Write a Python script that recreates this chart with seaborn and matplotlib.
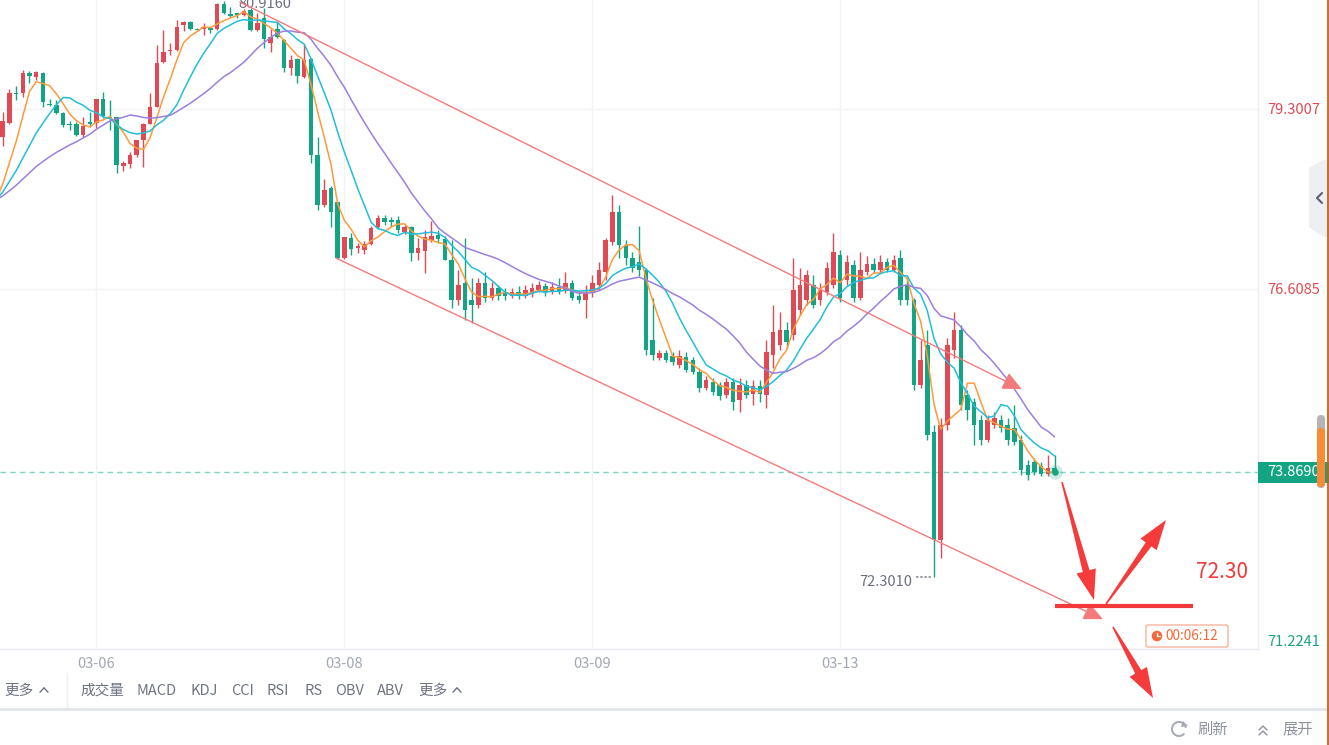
import numpy as np
import pandas as pd
import matplotlib
matplotlib.use("Agg")
import matplotlib.pyplot as plt
import matplotlib.transforms as mtransforms
from matplotlib.patches import Rectangle, FancyBboxPatch, Polygon, Circle, Arc
import seaborn as sns

# ---------------- data ----------------
opens = [
    78.88, 79.09, 79.54, 79.54, 79.84, 79.78, 79.84, 79.37, 79.36, 79.24,
    79.08, 79.08, 78.91, 79.11, 79.09, 79.45, 79.18, 79.18, 78.45, 78.48,
    78.61, 78.84, 79.08, 79.33, 80.00, 80.17, 80.18, 80.56, 80.60, 80.50,
    80.50, 80.51, 80.50, 80.87, 80.72, 80.74, 80.71, 80.78, 80.48, 80.66,
    80.29, 80.50, 80.33, 79.91, 80.05, 79.78, 80.05, 78.61, 77.86, 78.12,
    77.91, 77.07, 77.37, 77.22, 77.19, 77.28, 77.53, 77.67, 77.64, 77.64,
    77.46, 77.53, 77.15, 77.18, 77.34, 77.42, 77.36,
    77.04, 76.44, 76.70, 76.44, 76.37, 76.70, 76.47, 76.62, 76.56, 76.50, 76.56, 76.50,
    76.53, 76.59, 76.65, 76.56, 76.64, 76.58, 76.70, 76.50, 76.44, 76.56, 76.67, 76.86,
    77.31, 77.76, 77.27, 77.07, 77.01, 76.89, 75.84, 75.57, 75.65, 75.60, 75.47, 75.59,
    75.54, 75.36, 75.13, 75.22, 75.17, 75.02, 75.22, 74.95, 75.17, 75.04, 75.16, 75.02,
    75.62, 75.77, 75.99, 75.92, 76.29, 76.44, 76.67, 76.44, 76.56, 76.67, 77.12, 76.74,
    76.97, 76.47, 76.86, 76.98, 76.89, 77.01, 76.89, 77.07, 76.67, 76.44, 75.17, 75.77,
    74.47, 72.85, 74.57, 75.69, 75.99, 75.02, 74.92, 74.65, 74.35, 74.57,
    74.65, 74.57, 74.53, 74.35, 73.97, 74.02, 73.96, 73.84, 73.93,
]
highs = [
    79.26, 79.60, 79.64, 79.88, 79.87, 79.87, 79.85, 79.45, 79.43, 79.26,
    79.12, 79.11, 79.18, 79.26, 79.45, 79.55, 79.43, 79.18, 78.52, 78.66,
    78.84, 79.09, 79.54, 80.26, 80.48, 80.29, 80.63, 80.62, 80.62, 80.51,
    80.59, 80.53, 80.89, 80.916, 80.83, 80.74, 80.80, 80.81, 80.74, 80.81,
    80.50, 80.60, 80.35, 80.11, 80.06, 80.27, 80.06, 78.88, 78.25, 78.15,
    77.91, 77.39, 77.45, 77.30, 77.33, 77.55, 77.72, 77.72, 77.69, 77.70,
    77.56, 77.55, 77.37, 77.49, 77.62, 77.49, 77.40,
    77.34, 76.89, 77.37, 76.77, 76.77, 76.86, 76.71, 76.67, 76.62, 76.62, 76.65, 76.67,
    76.70, 76.73, 76.70, 76.71, 76.77, 76.86, 76.74, 76.59, 76.67, 76.82, 77.01, 77.37,
    78.01, 77.86, 77.34, 77.16, 77.55, 76.92, 76.47, 75.69, 75.69, 75.66, 75.69, 75.66,
    75.59, 75.42, 75.31, 75.28, 75.22, 75.28, 75.28, 75.28, 75.25, 75.25, 75.25, 75.84,
    76.37, 76.26, 76.11, 77.07, 76.92, 76.89, 76.82, 76.70, 77.01, 77.44, 77.19, 77.12,
    77.04, 77.16, 77.10, 77.07, 77.12, 77.07, 77.12, 77.19, 76.77, 76.47, 75.84, 75.99,
    74.57, 74.68, 75.87, 76.26, 76.07, 75.10, 74.98, 74.72, 74.72, 74.77,
    74.72, 74.68, 74.87, 74.42, 74.05, 74.08, 74.02, 74.13, 74.13,
]
lows = [
    78.75, 79.08, 79.43, 79.48, 79.69, 79.73, 79.33, 79.35, 79.22, 79.03,
    78.99, 78.90, 78.88, 79.03, 79.02, 79.17, 78.99, 78.34, 78.37, 78.42,
    78.58, 78.43, 79.08, 79.33, 79.99, 80.11, 80.17, 80.47, 80.48, 80.48,
    80.41, 80.44, 80.48, 80.72, 80.68, 80.66, 80.69, 80.47, 80.47, 80.21,
    80.15, 80.36, 79.85, 79.81, 79.69, 79.76, 78.49, 77.79, 77.83, 77.53,
    77.06, 77.06, 77.12, 77.15, 77.13, 77.27, 77.52, 77.57, 77.54, 77.45,
    77.43, 77.03, 77.04, 76.85, 77.31, 77.30, 77.04,
    76.32, 76.37, 76.14, 76.10, 76.32, 76.41, 76.44, 76.44, 76.44, 76.47, 76.46, 76.47,
    76.49, 76.56, 76.50, 76.53, 76.53, 76.55, 76.44, 76.40, 76.17, 76.49, 76.59, 76.74,
    77.27, 77.07, 76.97, 76.86, 76.80, 75.62, 75.54, 75.54, 75.51, 75.47, 75.42, 75.36,
    75.33, 75.07, 75.10, 75.02, 74.95, 74.98, 74.80, 74.77, 74.98, 74.87, 74.92, 74.83,
    75.42, 75.69, 75.72, 75.84, 76.22, 76.37, 76.32, 76.37, 76.52, 76.62, 76.41, 76.67,
    76.41, 76.44, 76.82, 76.85, 76.86, 76.86, 76.86, 76.37, 76.37, 75.10, 75.13, 74.35,
    72.301, 72.58, 74.50, 75.57, 74.80, 74.65, 74.27, 74.27, 74.32, 74.53,
    74.47, 74.27, 74.27, 73.82, 73.75, 73.82, 73.81, 73.81, 73.84,
]
closes = [
    79.12, 79.54, 79.52, 79.84, 79.79, 79.85, 79.41, 79.36, 79.24, 79.06,
    79.06, 78.91, 79.05, 79.08, 79.45, 79.20, 79.17, 78.46, 78.49, 78.61,
    78.84, 79.08, 79.33, 79.99, 80.15, 80.18, 80.53, 80.60, 80.50, 80.48,
    80.53, 80.48, 80.87, 80.74, 80.69, 80.71, 80.77, 80.48, 80.59, 80.35,
    80.38, 80.38, 79.91, 80.03, 79.79, 80.03, 78.61, 77.86, 78.09, 77.76,
    77.07, 77.39, 77.21, 77.25, 77.28, 77.52, 77.67, 77.61, 77.61, 77.49,
    77.53, 77.15, 77.22, 77.39, 77.40, 77.36, 77.04,
    76.44, 76.67, 76.29, 76.37, 76.70, 76.47, 76.62, 76.50, 76.50, 76.56, 76.50, 76.59,
    76.62, 76.67, 76.56, 76.64, 76.58, 76.70, 76.47, 76.44, 76.56, 76.70, 76.89, 77.34,
    77.76, 77.27, 77.07, 76.92, 76.89, 75.69, 75.62, 75.65, 75.54, 75.51, 75.60, 75.39,
    75.36, 75.13, 75.25, 75.07, 75.01, 75.22, 74.92, 75.17, 75.02, 75.16, 75.04, 75.66,
    75.96, 75.99, 75.81, 76.59, 76.67, 76.82, 76.37, 76.59, 76.92, 77.16, 76.47, 77.01,
    76.47, 76.89, 76.98, 76.89, 77.01, 76.89, 77.04, 76.44, 76.44, 75.17, 75.55, 74.42,
    72.85, 74.57, 75.77, 75.99, 74.87, 74.80, 74.57, 74.35, 74.65, 74.68,
    74.53, 74.35, 74.32, 73.90, 73.82, 73.87, 73.84, 73.93, 73.869,
]
prior_close = 77.94          # level before the visible window, where the MA lines start
ma_windows = [5, 10, 20]
date_ticks = [14, 51, 88, 125]
date_labels = ["03-06", "03-08", "03-09", "03-13"]
ytick_values = [79.3007, 76.6085, 71.2241]
y_top = 80.931
last_price = 73.8690
high_value = 80.9160
low_value = 72.3010
upper_channel_x = [35.4, 152.1]
upper_channel_y = [80.90, 75.11]
lower_channel_x = [49.75, 164.2]
lower_channel_y = [77.07, 71.67]
target_text = "72.30"
countdown_text = "00:06:12"
toolbar_items = ["成交量", "MACD", "KDJ", "CCI", "RSI", "RS", "OBV", "ABV"]
toolbar_x = [80, 137, 191, 231, 267, 304, 335, 377]

# ---------------- style ----------------
sns.set_theme(style="white")
plt.rcParams["font.family"] = ["Noto Sans CJK SC", "DejaVu Sans"]

RED = "#e04a54"
GREEN = "#13a483"
MA_COLORS = ["#ff9a3c", "#22bedc", "#9c7fe0"]
GRID = "#f2f3f5"

W, H = 1329, 745
fig = plt.figure(figsize=(W / 100, H / 100), dpi=100)
fig.patch.set_facecolor("white")
ax = fig.add_axes([0, (H - 649) / H, 1258 / W, 649 / H])

df = pd.DataFrame(dict(open=opens, high=highs, low=lows, close=closes))
df["idx"] = np.arange(len(df))
up = df["close"] >= df["open"]
cols = np.where(up, RED, GREEN)

# wicks and bodies
ax.vlines(df["idx"], df["low"], df["high"], colors=cols, linewidth=1.0, zorder=2)
body_bottom = np.minimum(df["open"], df["close"])
body_h = np.maximum((df["close"] - df["open"]).abs(), 0.014)
ax.bar(df["idx"], body_h, bottom=body_bottom, width=0.68, color=cols, linewidth=0, zorder=2)

# moving averages
full = pd.concat([pd.Series([prior_close] * max(ma_windows)), df["close"]], ignore_index=True)
start = max(ma_windows) - 1
xs = np.arange(-1, len(df))
for w, c in zip(ma_windows, MA_COLORS):
    ma = full.rolling(w).mean().iloc[start:].to_numpy()
    sns.lineplot(x=xs, y=ma, ax=ax, color=c, linewidth=1.1, sort=False,
                 errorbar=None, zorder=3)

# channel lines with arrow heads
for cx, cy in [(upper_channel_x, upper_channel_y), (lower_channel_x, lower_channel_y)]:
    ax.annotate("", xy=(cx[1], cy[1]), xytext=(cx[0], cy[0]),
                arrowprops=dict(arrowstyle="-|>,head_length=0.9,head_width=0.42",
                                color="#f47b7b", lw=1.0, shrinkA=0, shrinkB=0,
                                mutation_scale=13), zorder=4, annotation_clip=False)

# last price dashed line and dot
ax.axhline(last_price, color="#7fd4c2", linestyle=(0, (4, 3)), linewidth=1.0, zorder=1)
last_i = len(df) - 1
ax.scatter([last_i], [last_price], s=110, color=GREEN, alpha=0.22, linewidth=0, zorder=5)
ax.scatter([last_i], [last_price], s=22, color=GREEN, linewidth=0, zorder=6)

# high / low labels
hi_i = int(np.argmax(highs))
lo_i = int(np.argmin(lows))
ax.annotate(f"{high_value:.4f}", xy=(hi_i, high_value), xytext=(10.5, -2.5),
            textcoords="offset points", ha="left", va="center", fontsize=10.5,
            color="#6b7080", annotation_clip=False)
ax.annotate(f"{low_value:.4f}", xy=(lo_i, low_value), xytext=(-15.5, -3.6),
            textcoords="offset points", ha="right", va="center", fontsize=10.5,
            color="#6b7080")
ax.annotate("", xy=(lo_i - 0.3, low_value), xytext=(lo_i - 2.6, low_value),
            arrowprops=dict(arrowstyle="-", linestyle=(0, (1, 2)), color="#6b7080", lw=1.0,
                            shrinkA=0, shrinkB=0))

# axes, grid, ticks
ax.set_xlim(-0.403, 187.36)
ax.set_ylim(71.2239, y_top)
ax.set_xticks(date_ticks)
ax.set_xticklabels(date_labels)
ax.set_yticks(ytick_values)
ax.set_yticklabels([f"{v:.4f}" for v in ytick_values])
ax.yaxis.tick_right()
ax.tick_params(axis="y", length=0, pad=7, labelsize=10.5)
ax.tick_params(axis="x", length=0, pad=6, labelsize=10.5, labelcolor="#a2a7b6")
for lbl, v in zip(ax.get_yticklabels(), ytick_values):
    lbl.set_color(RED if v > last_price else "#1aa383")
    if v < last_price:
        lbl.set_verticalalignment("bottom")
ax.grid(True, color=GRID, linewidth=1.0)
ax.set_axisbelow(True)
for s in ["left", "top"]:
    ax.spines[s].set_visible(False)
ax.spines["right"].set_color("#eceef2")
ax.spines["bottom"].set_color("#e6e9ef")
ax.spines["right"].set_linewidth(1.0)
ax.spines["bottom"].set_linewidth(1.0)
ax.set_xlabel("")
ax.set_ylabel("")

# current price tag on the axis
blend = mtransforms.blended_transform_factory(ax.transAxes, ax.transData)
ax.add_patch(Rectangle((1.0, last_price - 0.158), 0.06, 0.316, transform=blend,
                       facecolor=GREEN, edgecolor="none", clip_on=False, zorder=6))
ax.text(1.0075, last_price, f"{last_price:.4f}", transform=blend, ha="left", va="center",
        fontsize=10.5, color="white", zorder=7, clip_on=False)

# ---------------- overlay in pixel space ----------------
ov = fig.add_axes([0, 0, 1, 1], zorder=10)
ov.set_xlim(0, W)
ov.set_ylim(H, 0)
ov.axis("off")
ov.patch.set_alpha(0)

TB = "#6e7385"


def chevron(x, y, color=TB, w=8, h=4.5, lw=1.0):
    ov.plot([x, x + w / 2, x + w], [y + h / 2, y - h / 2, y + h / 2], color=color, lw=lw,
            solid_capstyle="round")


ov.text(4, 691, "更多", ha="left", va="center", fontsize=10.5, color=TB)
chevron(40, 690)
ov.plot([66.5, 66.5], [673, 708], color="#eef0f4", lw=1.0)
for t, x in zip(toolbar_items, toolbar_x):
    ov.text(x, 691, t, ha="left", va="center", fontsize=10.5, color=TB)
ov.text(418, 691, "更多", ha="left", va="center", fontsize=10.5, color=TB)
chevron(453, 690)
ov.plot([0, W], [709, 709], color="#e2e5ed", lw=2.0)

# refresh / expand
ov.add_patch(Arc((1179, 729), 14, 14, theta1=40, theta2=350, color="#a5a9b5", lw=1.4))
ov.add_patch(Polygon([(1183, 721), (1188, 726), (1181, 727)], closed=True, color="#a5a9b5", lw=0))
ov.text(1197, 729, "刷新", ha="left", va="center", fontsize=11, color="#8d92a0")
chevron(1259, 728, color="#8d92a0", w=8, h=4)
chevron(1259, 733, color="#8d92a0", w=8, h=4)
ov.text(1282, 729, "展开", ha="left", va="center", fontsize=11, color="#8d92a0")

# right-side widgets
ov.add_patch(Polygon([(1329, 160), (1323, 160), (1309, 168), (1309, 227), (1323, 237), (1329, 237)],
                     closed=True, facecolor="#eeeff3", edgecolor="none"))
ov.plot([1322, 1317, 1322], [193, 198, 203], color="#5c6070", lw=1.5)
ov.add_patch(FancyBboxPatch((1317, 415), 8, 73, boxstyle="round,pad=0,rounding_size=4",
                            facecolor="#b5b5b8", edgecolor="none"))
ov.add_patch(FancyBboxPatch((1317, 428), 8, 59, boxstyle="round,pad=0,rounding_size=4",
                            facecolor="#fb8a36", edgecolor="none"))
ov.plot([1328.3, 1328.3], [0, H], color="#c6601d", lw=1.3)

# hand-drawn red annotations


def tapered_arrow(x0, y0, x1, y1, shaft_w=7, head_w=20, head_len=30, color="#f53b3b"):
    d = np.array([x1 - x0, y1 - y0], dtype=float)
    u = d / np.hypot(*d)
    n = np.array([-u[1], u[0]])
    p0 = np.array([x0, y0], dtype=float)
    tip = np.array([x1, y1], dtype=float)
    base = tip - u * head_len
    pts = [p0 + n * 0.8, base + n * shaft_w / 2, base + n * head_w / 2, tip,
           base - n * head_w / 2, base - n * shaft_w / 2, p0 - n * 0.8]
    ov.add_patch(Polygon(pts, closed=True, facecolor=color, edgecolor="none"))


tapered_arrow(1062, 482, 1094, 600)
tapered_arrow(1106, 604, 1166, 520)
tapered_arrow(1113, 627, 1153, 698)
ov.plot([1055, 1193], [606, 606], color="#f23a3a", lw=3.0, solid_capstyle="butt")
ov.text(1196, 572, target_text, ha="left", va="center", fontsize=15, color="#f03a3b")

# countdown box
ov.add_patch(FancyBboxPatch((1146, 625), 82, 22, boxstyle="round,pad=0,rounding_size=2",
                            facecolor="white", edgecolor="#f7b39d", lw=1.0))
ov.add_patch(Circle((1157, 636), 4.6, color="#f26a3b"))
ov.plot([1157, 1157, 1159.5], [633.3, 636.3, 636.3], color="white", lw=0.9)
ov.text(1165, 636, countdown_text, ha="left", va="center", fontsize=9.8, color="#f26a3b")

fig.savefig("out.png", dpi=100, facecolor="white")
